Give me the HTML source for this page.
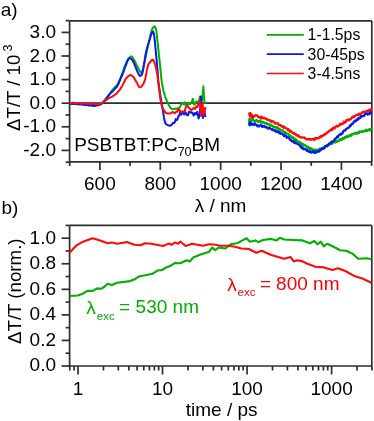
<!DOCTYPE html>
<html><head><meta charset="utf-8"><style>
html,body{margin:0;padding:0;background:#fff;}
svg{display:block;font-family:"Liberation Sans",sans-serif;will-change:transform;}
</style></head><body>
<svg width="374" height="421" viewBox="0 0 374 421">
<rect width="374" height="421" fill="#fff"/>
<line x1="69.60" y1="20.90" x2="371.80" y2="20.90" stroke="#2e2e2e" stroke-width="1.7"/>
<line x1="69.60" y1="161.90" x2="371.80" y2="161.90" stroke="#2e2e2e" stroke-width="1.7"/>
<line x1="69.60" y1="20.90" x2="69.60" y2="161.90" stroke="#2e2e2e" stroke-width="1.7"/>
<line x1="371.80" y1="20.90" x2="371.80" y2="161.90" stroke="#2e2e2e" stroke-width="1.7"/>
<line x1="69.60" y1="103.20" x2="371.80" y2="103.20" stroke="#2e2e2e" stroke-width="1.7"/>
<line x1="65.60" y1="162.20" x2="69.60" y2="162.20" stroke="#2e2e2e" stroke-width="1.7"/>
<line x1="61.60" y1="150.40" x2="69.60" y2="150.40" stroke="#2e2e2e" stroke-width="1.7"/>
<line x1="65.60" y1="138.60" x2="69.60" y2="138.60" stroke="#2e2e2e" stroke-width="1.7"/>
<line x1="61.60" y1="126.80" x2="69.60" y2="126.80" stroke="#2e2e2e" stroke-width="1.7"/>
<line x1="65.60" y1="115.00" x2="69.60" y2="115.00" stroke="#2e2e2e" stroke-width="1.7"/>
<line x1="61.60" y1="103.20" x2="69.60" y2="103.20" stroke="#2e2e2e" stroke-width="1.7"/>
<line x1="65.60" y1="91.40" x2="69.60" y2="91.40" stroke="#2e2e2e" stroke-width="1.7"/>
<line x1="61.60" y1="79.60" x2="69.60" y2="79.60" stroke="#2e2e2e" stroke-width="1.7"/>
<line x1="65.60" y1="67.80" x2="69.60" y2="67.80" stroke="#2e2e2e" stroke-width="1.7"/>
<line x1="61.60" y1="56.00" x2="69.60" y2="56.00" stroke="#2e2e2e" stroke-width="1.7"/>
<line x1="65.60" y1="44.20" x2="69.60" y2="44.20" stroke="#2e2e2e" stroke-width="1.7"/>
<line x1="61.60" y1="32.40" x2="69.60" y2="32.40" stroke="#2e2e2e" stroke-width="1.7"/>
<line x1="65.60" y1="20.60" x2="69.60" y2="20.60" stroke="#2e2e2e" stroke-width="1.7"/>
<line x1="69.70" y1="161.90" x2="69.70" y2="165.90" stroke="#2e2e2e" stroke-width="1.7"/>
<line x1="99.89" y1="161.90" x2="99.89" y2="169.90" stroke="#2e2e2e" stroke-width="1.7"/>
<line x1="130.08" y1="161.90" x2="130.08" y2="165.90" stroke="#2e2e2e" stroke-width="1.7"/>
<line x1="160.27" y1="161.90" x2="160.27" y2="169.90" stroke="#2e2e2e" stroke-width="1.7"/>
<line x1="190.46" y1="161.90" x2="190.46" y2="165.90" stroke="#2e2e2e" stroke-width="1.7"/>
<line x1="220.65" y1="161.90" x2="220.65" y2="169.90" stroke="#2e2e2e" stroke-width="1.7"/>
<line x1="250.84" y1="161.90" x2="250.84" y2="165.90" stroke="#2e2e2e" stroke-width="1.7"/>
<line x1="281.03" y1="161.90" x2="281.03" y2="169.90" stroke="#2e2e2e" stroke-width="1.7"/>
<line x1="311.22" y1="161.90" x2="311.22" y2="165.90" stroke="#2e2e2e" stroke-width="1.7"/>
<line x1="341.41" y1="161.90" x2="341.41" y2="169.90" stroke="#2e2e2e" stroke-width="1.7"/>
<line x1="371.60" y1="161.90" x2="371.60" y2="165.90" stroke="#2e2e2e" stroke-width="1.7"/>
<line x1="69.60" y1="225.40" x2="371.80" y2="225.40" stroke="#2e2e2e" stroke-width="1.7"/>
<line x1="69.60" y1="366.00" x2="371.80" y2="366.00" stroke="#2e2e2e" stroke-width="1.7"/>
<line x1="69.60" y1="225.40" x2="69.60" y2="366.00" stroke="#2e2e2e" stroke-width="1.7"/>
<line x1="371.80" y1="225.40" x2="371.80" y2="366.00" stroke="#2e2e2e" stroke-width="1.7"/>
<line x1="61.60" y1="366.00" x2="69.60" y2="366.00" stroke="#2e2e2e" stroke-width="1.7"/>
<line x1="65.60" y1="353.22" x2="69.60" y2="353.22" stroke="#2e2e2e" stroke-width="1.7"/>
<line x1="61.60" y1="340.44" x2="69.60" y2="340.44" stroke="#2e2e2e" stroke-width="1.7"/>
<line x1="65.60" y1="327.66" x2="69.60" y2="327.66" stroke="#2e2e2e" stroke-width="1.7"/>
<line x1="61.60" y1="314.88" x2="69.60" y2="314.88" stroke="#2e2e2e" stroke-width="1.7"/>
<line x1="65.60" y1="302.10" x2="69.60" y2="302.10" stroke="#2e2e2e" stroke-width="1.7"/>
<line x1="61.60" y1="289.32" x2="69.60" y2="289.32" stroke="#2e2e2e" stroke-width="1.7"/>
<line x1="65.60" y1="276.54" x2="69.60" y2="276.54" stroke="#2e2e2e" stroke-width="1.7"/>
<line x1="61.60" y1="263.76" x2="69.60" y2="263.76" stroke="#2e2e2e" stroke-width="1.7"/>
<line x1="65.60" y1="250.98" x2="69.60" y2="250.98" stroke="#2e2e2e" stroke-width="1.7"/>
<line x1="61.60" y1="238.20" x2="69.60" y2="238.20" stroke="#2e2e2e" stroke-width="1.7"/>
<line x1="65.60" y1="225.42" x2="69.60" y2="225.42" stroke="#2e2e2e" stroke-width="1.7"/>
<line x1="69.81" y1="366.00" x2="69.81" y2="370.50" stroke="#2e2e2e" stroke-width="1.7"/>
<line x1="74.13" y1="366.00" x2="74.13" y2="370.50" stroke="#2e2e2e" stroke-width="1.7"/>
<line x1="78.00" y1="366.00" x2="78.00" y2="374.50" stroke="#2e2e2e" stroke-width="1.7"/>
<line x1="103.45" y1="366.00" x2="103.45" y2="370.50" stroke="#2e2e2e" stroke-width="1.7"/>
<line x1="118.33" y1="366.00" x2="118.33" y2="370.50" stroke="#2e2e2e" stroke-width="1.7"/>
<line x1="128.89" y1="366.00" x2="128.89" y2="370.50" stroke="#2e2e2e" stroke-width="1.7"/>
<line x1="137.08" y1="366.00" x2="137.08" y2="370.50" stroke="#2e2e2e" stroke-width="1.7"/>
<line x1="143.78" y1="366.00" x2="143.78" y2="370.50" stroke="#2e2e2e" stroke-width="1.7"/>
<line x1="149.44" y1="366.00" x2="149.44" y2="370.50" stroke="#2e2e2e" stroke-width="1.7"/>
<line x1="154.34" y1="366.00" x2="154.34" y2="370.50" stroke="#2e2e2e" stroke-width="1.7"/>
<line x1="158.66" y1="366.00" x2="158.66" y2="370.50" stroke="#2e2e2e" stroke-width="1.7"/>
<line x1="162.53" y1="366.00" x2="162.53" y2="374.50" stroke="#2e2e2e" stroke-width="1.7"/>
<line x1="187.98" y1="366.00" x2="187.98" y2="370.50" stroke="#2e2e2e" stroke-width="1.7"/>
<line x1="202.86" y1="366.00" x2="202.86" y2="370.50" stroke="#2e2e2e" stroke-width="1.7"/>
<line x1="213.42" y1="366.00" x2="213.42" y2="370.50" stroke="#2e2e2e" stroke-width="1.7"/>
<line x1="221.61" y1="366.00" x2="221.61" y2="370.50" stroke="#2e2e2e" stroke-width="1.7"/>
<line x1="228.31" y1="366.00" x2="228.31" y2="370.50" stroke="#2e2e2e" stroke-width="1.7"/>
<line x1="233.97" y1="366.00" x2="233.97" y2="370.50" stroke="#2e2e2e" stroke-width="1.7"/>
<line x1="238.87" y1="366.00" x2="238.87" y2="370.50" stroke="#2e2e2e" stroke-width="1.7"/>
<line x1="243.19" y1="366.00" x2="243.19" y2="370.50" stroke="#2e2e2e" stroke-width="1.7"/>
<line x1="247.06" y1="366.00" x2="247.06" y2="374.50" stroke="#2e2e2e" stroke-width="1.7"/>
<line x1="272.51" y1="366.00" x2="272.51" y2="370.50" stroke="#2e2e2e" stroke-width="1.7"/>
<line x1="287.39" y1="366.00" x2="287.39" y2="370.50" stroke="#2e2e2e" stroke-width="1.7"/>
<line x1="297.95" y1="366.00" x2="297.95" y2="370.50" stroke="#2e2e2e" stroke-width="1.7"/>
<line x1="306.14" y1="366.00" x2="306.14" y2="370.50" stroke="#2e2e2e" stroke-width="1.7"/>
<line x1="312.84" y1="366.00" x2="312.84" y2="370.50" stroke="#2e2e2e" stroke-width="1.7"/>
<line x1="318.50" y1="366.00" x2="318.50" y2="370.50" stroke="#2e2e2e" stroke-width="1.7"/>
<line x1="323.40" y1="366.00" x2="323.40" y2="370.50" stroke="#2e2e2e" stroke-width="1.7"/>
<line x1="327.72" y1="366.00" x2="327.72" y2="370.50" stroke="#2e2e2e" stroke-width="1.7"/>
<line x1="331.59" y1="366.00" x2="331.59" y2="374.50" stroke="#2e2e2e" stroke-width="1.7"/>
<line x1="357.04" y1="366.00" x2="357.04" y2="370.50" stroke="#2e2e2e" stroke-width="1.7"/>
<line x1="371.92" y1="366.00" x2="371.92" y2="370.50" stroke="#2e2e2e" stroke-width="1.7"/>
<polyline points="69.7,104.0 70.4,104.0 71.2,104.0 72.2,103.7 73.3,103.9 74.5,103.7 75.8,103.6 77.2,104.0 78.6,103.7 80.0,103.9 81.0,104.0 82.1,104.0 83.3,103.9 84.6,104.1 85.9,104.2 87.2,104.3 88.5,104.1 89.7,104.3 91.0,104.2 92.1,104.3 93.2,104.6 94.2,104.5 95.0,104.5 97.0,104.7 98.2,104.7 99.0,104.3 100.0,104.1 100.9,103.5 101.8,102.9 102.7,102.2 103.6,101.3 104.4,100.5 105.2,99.7 105.9,99.1 106.5,98.0 107.2,97.2 108.0,96.2 108.7,95.0 109.4,94.2 110.1,93.4 110.8,92.3 111.6,91.0 112.3,90.0 113.1,89.3 113.9,88.2 114.7,87.5 115.5,86.6 116.3,86.0 117.0,85.1 117.6,84.3 118.1,82.9 118.6,82.2 119.1,81.2 119.5,79.9 120.0,79.2 120.5,78.1 121.0,76.6 121.4,75.8 121.9,74.4 122.3,73.2 122.8,72.2 123.2,71.1 123.6,69.7 123.9,68.7 124.3,67.7 124.7,66.5 125.1,65.4 125.5,64.4 126.0,63.4 126.6,61.8 127.2,60.9 127.8,59.7 128.4,58.5 129.0,57.9 130.1,57.0 131.1,56.4 132.3,56.8 132.8,57.8 133.3,58.5 133.8,59.6 134.4,60.3 134.9,61.5 135.5,62.6 136.0,64.1 136.6,64.9 137.1,65.8 137.8,67.2 138.4,68.7 139.0,70.0 139.7,70.9 140.3,71.8 140.8,72.7 141.4,72.5 141.8,72.2 142.2,71.1 142.6,70.1 142.9,69.2 143.3,67.7 143.6,66.0 144.0,65.0 144.3,63.4 144.6,62.2 144.8,60.7 145.1,60.1 145.3,58.6 145.5,57.8 145.7,56.5 145.9,55.3 146.2,54.3 146.4,53.4 146.6,52.0 146.8,50.8 147.0,50.0 147.3,48.7 147.6,47.4 147.8,46.3 148.1,45.1 148.4,44.1 148.7,43.1 149.0,42.0 149.2,41.2 149.5,39.9 149.8,38.8 150.0,37.4 150.3,36.3 150.5,34.9 150.7,33.9 151.0,32.7 151.2,32.0 151.5,31.0 152.1,29.3 152.7,28.1 153.3,27.3 153.9,26.4 155.0,26.6 156.0,29.0 156.1,29.7 156.3,30.7 156.4,31.4 156.5,32.4 156.7,33.6 156.8,34.9 156.9,35.8 157.1,37.3 157.2,38.5 157.3,39.7 157.5,40.9 157.6,42.2 157.7,43.3 157.9,44.6 158.0,45.8 158.1,47.2 158.2,48.0 158.4,49.1 158.5,50.1 158.6,51.6 158.7,52.7 158.8,53.8 158.9,54.7 159.1,55.8 159.2,57.0 159.3,58.2 159.4,59.2 159.5,60.4 159.6,61.5 159.8,63.0 159.9,64.1 160.0,65.0 160.1,66.0 160.2,67.5 160.4,68.4 160.5,69.6 160.6,70.6 160.7,72.0 160.8,73.3 160.9,74.5 161.1,75.5 161.2,76.8 161.3,77.7 161.4,79.0 161.6,80.0 161.7,81.2 161.8,82.1 162.0,83.0 162.1,84.1 162.4,85.5 162.6,87.1 162.9,88.3 163.2,89.6 163.4,90.7 163.7,91.8 164.0,92.9 164.3,93.7 164.6,94.6 164.9,95.8 165.3,96.7 165.7,98.1 166.1,99.1 166.5,99.8 166.9,101.2 167.4,102.1 167.8,102.9 168.4,104.2 169.0,105.6 169.6,106.4 170.2,107.6 171.0,108.3 172.1,109.1 173.3,109.2 174.6,109.1 176.0,108.3 177.2,109.1 178.4,108.1 179.6,107.7 180.8,105.1 182.0,103.6 183.0,103.5 183.9,104.2 184.8,102.2 185.8,105.9 187.0,103.9 188.0,104.1 189.2,103.8 190.4,104.0 191.6,102.5 192.8,98.7 194.0,104.5 195.0,104.0 196.4,101.6 197.7,101.5 198.8,102.2 200.0,96.5 201.2,102.6 202.4,97.8 203.4,86.3 204.3,101.0 205.5,104.0" fill="none" stroke="#00b000" stroke-width="2.0" stroke-linejoin="round"/>
<polyline points="69.7,103.4 70.4,103.4 71.3,103.7 72.4,103.5 73.6,103.9 74.9,103.9 76.2,103.9 77.5,104.3 78.8,104.2 80.0,104.5 81.2,104.4 82.3,104.5 83.5,104.8 84.7,105.1 85.9,104.9 87.0,105.1 88.1,105.4 89.1,105.6 90.0,105.5 91.6,105.6 92.8,106.0 93.9,105.6 95.0,106.0 96.3,105.6 97.5,105.3 98.8,105.1 100.0,104.7 101.0,104.4 102.0,103.4 102.9,102.9 103.7,102.2 104.4,101.4 105.1,100.7 105.7,99.4 106.3,98.5 107.0,97.6 107.8,96.7 108.6,95.4 109.5,94.3 110.2,93.6 111.0,92.7 111.9,91.8 112.7,91.3 113.5,90.5 114.2,89.5 115.2,88.6 116.0,87.6 116.8,86.8 117.6,85.5 118.1,84.4 118.6,83.7 119.1,82.2 119.5,81.3 120.0,80.4 120.4,79.0 120.9,78.0 121.4,76.7 121.9,75.9 122.3,74.8 122.8,73.5 123.2,72.6 123.6,71.3 124.0,70.3 124.4,69.1 124.8,68.0 125.2,66.8 125.7,65.8 126.1,64.6 126.6,63.1 127.1,62.0 127.6,60.6 128.0,60.1 129.0,58.4 130.1,58.2 130.8,58.6 131.6,59.1 132.4,60.3 133.3,61.9 133.8,62.5 134.2,63.8 134.7,64.8 135.2,66.1 135.7,67.3 136.2,68.9 136.7,69.7 137.1,70.8 137.7,72.2 138.3,73.7 138.8,74.3 139.3,75.3 139.8,75.7 140.7,75.9 141.6,75.0 142.4,73.2 142.6,72.1 142.8,71.3 143.0,70.2 143.2,69.3 143.4,68.2 143.6,66.5 143.8,65.3 144.0,64.0 144.2,62.8 144.4,61.8 144.6,60.7 144.8,59.4 145.0,58.1 145.2,57.1 145.4,56.0 145.5,55.0 145.7,54.1 145.9,52.9 146.2,51.7 146.4,50.7 146.7,49.6 147.0,48.1 147.3,47.4 147.6,46.2 148.0,45.1 148.3,43.9 148.6,42.6 149.0,41.6 149.3,40.4 149.7,39.3 150.2,37.7 150.6,36.3 151.0,35.1 151.5,34.0 151.8,33.2 152.2,32.4 153.1,31.5 153.9,33.8 154.0,34.5 154.1,35.4 154.3,36.1 154.4,37.5 154.5,38.4 154.6,39.2 154.7,40.5 154.9,41.7 155.0,43.0 155.1,44.1 155.2,45.8 155.3,47.1 155.5,48.1 155.6,49.4 155.7,50.4 155.8,51.5 155.9,52.7 156.0,53.8 156.1,55.3 156.2,56.1 156.4,57.2 156.5,58.9 156.6,59.9 156.7,60.9 156.8,62.3 156.9,63.2 157.0,64.6 157.1,66.0 157.2,67.0 157.3,68.0 157.4,68.9 157.5,69.9 157.6,71.2 157.7,72.8 157.8,73.9 157.9,75.2 158.0,76.1 158.1,77.2 158.2,78.6 158.2,79.7 158.3,80.8 158.4,81.9 158.6,83.0 158.7,84.1 158.8,85.0 159.0,86.2 159.1,87.3 159.3,88.3 159.5,89.4 159.7,90.7 159.8,91.8 160.0,93.1 160.2,94.4 160.4,95.3 160.6,96.6 160.7,97.7 160.9,98.7 161.1,99.6 161.3,100.8 161.5,102.0 161.7,103.1 161.9,104.3 162.1,105.6 162.2,106.8 162.4,107.9 162.6,108.8 162.8,110.0 163.0,111.1 163.2,112.0 163.4,113.5 163.6,114.9 163.8,116.0 163.9,117.2 164.1,118.2 164.3,119.2 164.5,120.5 164.8,121.1 165.0,122.2 165.9,124.0 166.9,124.6 168.0,125.2 169.1,125.7 170.3,125.6 171.5,124.8 172.4,123.8 173.2,122.7 174.1,123.1 175.0,121.8 175.7,119.1 176.4,120.3 177.1,119.9 177.9,117.9 178.6,115.7 179.2,115.7 179.9,112.7 180.5,111.1 181.2,114.8 182.0,112.7 183.0,112.0 184.2,114.5 185.5,112.2 187.0,115.3 188.0,115.3 189.0,111.7 190.1,112.2 191.3,112.8 192.5,112.7 193.7,115.5 195.0,113.1 196.1,114.3 197.3,111.8 198.6,118.5 199.9,113.4 201.0,96.5 202.0,112.0 203.0,118.0 204.0,110.0 205.5,117.0" fill="none" stroke="#0818f0" stroke-width="2.0" stroke-linejoin="round"/>
<polyline points="69.7,102.6 70.4,102.9 71.3,103.0 72.4,102.8 73.6,102.8 74.9,102.9 76.2,103.1 77.5,103.2 78.8,103.2 80.0,103.3 81.1,103.1 82.2,103.2 83.4,103.3 84.5,103.6 85.6,103.5 86.7,103.7 87.8,103.4 88.9,103.5 90.0,103.7 91.1,103.9 92.3,104.0 93.5,104.1 94.8,104.0 95.9,104.2 97.1,104.2 98.2,104.2 99.1,103.9 100.0,104.2 101.5,103.3 102.7,102.8 103.6,101.9 104.4,100.8 105.3,100.3 106.6,99.7 107.4,99.3 108.5,98.5 109.6,97.8 110.9,97.1 112.1,96.8 113.2,95.8 114.2,95.3 115.2,94.4 116.0,93.8 116.8,93.3 117.6,92.1 118.3,91.6 119.0,90.6 119.7,89.9 120.4,88.9 121.0,87.7 121.6,87.0 122.2,85.9 122.8,84.7 123.4,83.5 124.0,82.5 124.5,81.3 125.0,80.1 125.6,79.0 126.6,77.8 127.6,76.6 128.5,76.1 130.5,74.8 131.8,75.5 133.3,76.9 133.9,77.3 134.5,78.8 135.2,79.9 135.8,81.2 136.5,82.1 137.1,83.1 137.9,84.6 138.7,86.4 139.4,87.2 140.3,87.3 140.9,87.1 141.5,86.5 142.1,85.6 142.8,84.7 143.4,83.9 144.0,82.3 144.6,81.2 144.9,80.0 145.2,79.0 145.4,78.0 145.7,76.6 145.9,75.4 146.2,74.4 146.4,73.1 146.6,71.8 146.9,70.4 147.1,69.4 147.3,68.3 147.6,67.2 147.8,66.4 148.4,64.4 149.0,63.5 149.6,62.6 150.2,62.0 150.7,61.4 151.9,59.8 153.1,59.7 153.6,60.8 154.1,61.4 154.6,62.9 155.0,64.3 155.5,65.9 155.7,67.0 156.0,68.1 156.2,68.7 156.4,69.9 156.6,70.8 156.8,72.1 157.1,73.2 157.3,74.4 157.5,75.8 157.6,76.8 157.8,78.2 157.9,79.1 158.1,80.1 158.2,81.6 158.4,82.9 158.5,83.8 158.6,84.9 158.8,86.2 158.9,87.3 159.1,88.6 159.2,89.7 159.4,90.8 159.5,91.9 159.7,93.3 159.8,94.7 160.0,95.8 160.1,96.9 160.3,98.0 160.4,99.2 160.6,100.2 160.8,101.2 161.0,102.1 161.2,103.2 161.4,104.4 161.8,105.4 162.3,106.9 162.9,108.3 163.4,109.5 164.0,110.2 164.5,111.1 165.0,111.9 166.0,113.0 166.9,113.3 168.0,113.6 169.1,113.6 170.4,113.5 172.0,112.4 172.9,112.0 173.9,112.9 175.0,113.2 176.2,111.7 177.3,111.7 178.5,109.0 179.6,110.2 180.8,112.3 182.1,111.6 183.3,111.5 184.5,111.9 185.7,107.5 187.0,106.2 188.1,106.1 189.2,108.2 190.3,109.0 191.4,110.6 192.5,108.8 193.7,108.1 195.0,108.9 196.1,106.3 197.4,107.1 198.7,102.5 200.0,101.0 201.0,116.0 202.5,104.0 204.0,115.0 205.5,107.0" fill="none" stroke="#ff0a0a" stroke-width="2.0" stroke-linejoin="round"/>
<polyline points="249.0,114.7 249.4,113.5 249.8,116.3 250.3,113.1 250.9,116.9 251.5,114.3 252.1,116.3 252.8,118.0 253.5,116.1 254.2,116.4 255.0,115.7 255.8,115.0 256.6,115.3 257.4,115.7 258.2,117.1 259.1,116.9 259.9,117.3 260.8,118.5 261.6,116.8 262.4,117.6 263.0,118.4 263.6,117.6 264.2,117.8 264.9,118.6 265.5,118.4 266.1,119.0 266.8,119.1 267.5,119.9 268.1,120.1 268.8,119.8 269.5,120.7 270.2,120.7 270.8,120.5 271.5,122.0 272.2,121.2 272.9,121.3 273.6,121.5 274.3,122.7 275.0,123.4 275.7,123.5 276.4,123.2 277.1,123.3 277.8,123.2 278.5,124.6 279.1,124.8 279.8,124.8 280.4,125.6 281.1,125.6 281.7,126.7 282.4,126.7 283.0,126.3 283.7,127.8 284.4,126.8 285.1,128.0 285.7,128.2 286.4,128.3 287.1,128.5 287.8,130.1 288.4,129.2 289.1,130.5 289.8,131.6 290.4,130.7 291.1,131.2 291.7,132.3 292.3,132.5 292.9,133.1 293.5,133.7 294.1,133.1 294.7,133.6 295.2,134.0 295.7,133.9 296.3,135.5 296.7,135.6 297.2,135.7 298.3,135.2 299.2,137.0 300.0,137.2 300.8,137.1 301.4,137.8 302.0,137.5 302.6,137.3 303.2,137.3 303.7,137.7 304.3,137.5 305.0,138.1 305.8,139.0 306.5,139.1 307.2,139.5 308.0,139.4 308.7,138.8 309.5,139.4 310.2,139.2 310.9,139.8 311.7,139.4 312.4,138.9 313.1,139.5 313.7,139.9 314.3,138.6 314.9,139.5 315.5,138.0 316.1,138.2 316.7,138.0 317.4,138.5 318.1,138.5 318.9,137.8 319.8,136.7 320.3,137.4 320.8,136.2 321.3,135.7 321.9,136.5 322.5,135.7 323.0,135.5 323.6,135.0 324.2,135.2 324.8,133.9 325.5,134.1 326.1,133.5 326.8,133.3 327.4,132.2 328.1,132.3 328.7,131.6 329.4,130.8 330.0,130.2 330.7,130.4 331.4,129.1 332.0,130.1 332.7,128.4 333.3,127.9 333.9,127.7 334.5,128.6 335.1,127.3 335.7,126.7 336.3,126.1 336.9,125.8 337.5,126.5 338.2,126.0 338.8,125.7 339.4,125.4 340.0,124.0 340.7,124.5 341.3,123.7 341.9,124.1 342.6,123.8 343.2,123.5 343.8,121.8 344.4,122.8 345.0,122.5 345.6,122.2 346.2,120.5 346.8,120.4 347.4,119.9 348.1,119.4 348.7,120.3 349.4,119.9 350.0,119.2 350.7,119.2 351.3,118.5 351.9,117.6 352.6,116.9 353.2,116.6 353.8,117.3 354.4,116.1 355.1,115.9 355.7,115.7 356.3,114.8 356.9,114.8 357.5,114.6 358.1,115.0 358.7,114.1 359.2,113.7 359.8,114.5 360.4,113.5 361.2,113.7 362.0,113.0 362.8,111.8 363.6,112.1 364.4,111.9 365.2,112.1 366.0,111.2 366.8,111.5 367.5,111.0 368.2,110.3 368.9,111.2 369.5,109.7 370.1,110.7 370.7,109.5 371.1,109.1 371.5,109.3" fill="none" stroke="#ff0a0a" stroke-width="2.3" stroke-linejoin="round"/>
<polyline points="249.0,122.8 249.4,118.9 249.8,121.2 250.3,121.4 250.9,119.5 251.5,120.3 252.1,119.2 252.8,119.6 253.5,120.4 254.2,121.3 255.0,121.5 255.8,120.5 256.6,120.0 257.4,121.0 258.2,122.0 259.1,120.9 259.9,121.3 260.8,121.2 261.6,123.0 262.4,122.5 263.0,121.9 263.6,122.1 264.2,122.8 264.9,123.2 265.5,123.6 266.1,122.9 266.8,123.2 267.5,124.3 268.1,124.1 268.8,124.1 269.5,124.4 270.2,125.7 270.8,124.9 271.5,125.6 272.2,125.6 272.9,125.9 273.6,127.0 274.3,127.5 275.0,126.8 275.7,126.8 276.4,128.0 277.1,127.5 277.8,127.5 278.5,129.3 279.1,128.8 279.8,129.8 280.4,129.5 281.0,130.6 281.6,130.3 282.3,130.2 282.9,130.3 283.6,131.6 284.2,132.1 284.9,133.0 285.5,132.1 286.2,133.3 286.8,133.4 287.5,134.0 288.1,133.9 288.8,134.6 289.4,135.4 290.1,136.5 290.7,135.6 291.3,136.6 291.9,137.6 292.5,138.2 293.1,137.4 293.7,137.7 294.2,139.4 294.8,139.8 295.3,139.4 295.8,139.1 296.3,140.8 296.8,140.2 297.2,141.3 298.1,141.5 298.9,142.4 299.7,141.8 300.3,143.2 300.9,142.7 301.5,143.4 302.0,144.4 302.5,144.7 302.9,144.0 303.4,144.3 303.9,144.9 304.4,145.4 305.0,145.5 305.7,145.5 306.4,146.1 307.0,147.3 307.7,147.9 308.4,146.9 309.1,148.1 309.7,148.8 310.4,148.0 311.1,149.5 311.7,148.6 312.4,149.6 313.1,149.7 313.8,149.9 314.4,149.6 315.1,149.8 315.8,150.2 316.4,149.9 317.2,150.2 318.0,149.8 318.8,149.6 319.8,148.6 320.3,149.4 320.9,149.0 321.4,148.4 322.0,149.0 322.6,148.7 323.2,147.9 323.8,147.1 324.5,147.3 325.1,146.3 325.8,146.0 326.5,146.1 327.1,145.2 327.8,145.4 328.5,145.1 329.2,144.0 329.9,144.6 330.6,143.4 331.3,144.0 332.0,143.8 332.7,143.0 333.3,142.0 334.0,142.4 334.6,141.9 335.3,142.5 336.0,140.9 336.6,141.8 337.3,141.7 338.0,140.9 338.7,140.8 339.4,139.5 340.0,140.4 340.7,139.3 341.4,139.8 342.1,139.4 342.8,137.9 343.5,138.6 344.1,138.5 344.8,136.9 345.5,137.1 346.1,137.4 346.8,136.2 347.4,137.1 348.1,135.9 348.8,136.4 349.6,135.1 350.3,135.4 351.0,135.8 351.7,134.4 352.4,134.2 353.1,134.3 353.8,133.8 354.5,133.1 355.1,133.1 355.8,132.8 356.5,133.9 357.2,133.2 357.8,133.3 358.5,132.0 359.1,132.8 359.8,131.5 360.4,131.9 361.2,131.9 362.0,131.2 362.8,131.8 363.6,131.1 364.4,130.9 365.2,131.2 366.0,129.8 366.8,131.0 367.5,130.2 368.2,129.7 368.9,130.2 369.5,129.2 370.1,130.2 370.7,129.4 371.1,129.0 371.5,129.5" fill="none" stroke="#00b000" stroke-width="2.3" stroke-linejoin="round"/>
<polyline points="249.0,122.9 249.4,124.8 249.8,125.2 250.3,122.4 250.9,122.3 251.5,124.5 252.1,124.9 252.8,124.0 253.5,123.9 254.2,125.0 255.0,123.5 255.8,124.4 256.6,124.9 257.4,126.3 258.2,125.6 259.1,126.4 259.9,125.5 260.8,125.1 261.6,125.3 262.4,126.9 263.0,126.7 263.6,126.2 264.2,126.0 264.9,126.9 265.5,127.4 266.1,127.2 266.8,127.1 267.5,128.0 268.1,128.6 268.8,127.8 269.5,127.7 270.2,128.4 270.8,128.8 271.5,129.5 272.2,129.0 272.9,130.2 273.6,130.4 274.3,130.3 275.0,130.1 275.7,131.6 276.4,130.9 277.1,132.0 277.8,131.4 278.5,131.7 279.1,132.9 279.8,132.5 280.4,133.8 281.0,133.4 281.6,133.3 282.3,133.7 282.9,134.4 283.6,135.2 284.2,136.1 284.9,135.2 285.5,136.0 286.2,136.1 286.8,137.8 287.5,136.9 288.1,137.2 288.8,137.6 289.4,138.6 290.1,139.8 290.7,140.2 291.3,140.4 291.9,141.3 292.5,141.6 293.1,141.0 293.7,141.2 294.2,142.8 294.8,142.8 295.3,142.1 295.8,143.4 296.3,143.3 296.8,143.6 297.2,143.8 298.1,144.2 298.9,144.5 299.7,145.4 300.3,146.0 300.9,147.4 301.5,146.5 302.0,148.2 302.5,147.3 302.9,147.9 303.4,149.0 303.9,149.3 304.4,149.0 305.0,148.7 305.7,149.7 306.4,149.9 307.0,151.1 307.7,150.3 308.4,150.9 309.1,152.0 309.7,150.9 310.4,151.7 311.1,152.5 311.7,152.6 312.4,151.5 313.1,151.5 313.8,151.6 314.4,152.9 315.1,151.8 315.8,152.5 316.4,152.5 317.2,151.4 318.0,150.9 318.8,151.6 319.8,150.6 320.3,149.8 320.8,150.2 321.3,149.2 321.8,148.9 322.3,148.1 322.9,148.9 323.4,148.8 324.0,147.9 324.6,148.0 325.2,146.1 325.8,146.0 326.4,146.0 327.0,146.3 327.6,145.8 328.3,144.4 328.9,143.7 329.5,143.5 330.2,143.1 330.8,143.3 331.4,141.6 332.1,142.1 332.7,141.5 333.2,141.2 333.7,140.7 334.3,140.0 334.8,139.1 335.3,138.6 335.9,138.2 336.4,138.4 337.0,136.8 337.5,136.5 338.1,136.9 338.6,135.6 339.2,134.8 339.8,134.3 340.3,134.6 340.9,133.7 341.4,134.3 342.0,133.6 342.6,133.3 343.1,131.6 343.7,130.8 344.2,130.4 344.8,130.5 345.3,130.4 345.8,129.5 346.4,128.7 346.9,128.5 347.4,128.4 348.0,128.0 348.5,127.6 349.1,127.2 349.7,126.4 350.3,125.1 350.8,125.7 351.4,124.3 351.9,124.2 352.5,123.4 353.0,123.5 353.6,122.1 354.1,121.7 354.7,121.2 355.2,120.6 355.7,121.3 356.3,120.4 356.8,119.5 357.3,119.2 357.8,119.7 358.4,118.6 358.9,117.7 359.4,118.3 359.9,117.7 360.4,117.9 361.1,116.0 361.9,116.2 362.6,116.4 363.4,116.0 364.1,115.8 364.9,114.1 365.7,114.2 366.4,113.6 367.1,113.5 367.8,114.5 368.5,113.7 369.1,114.0 369.7,112.9 370.2,113.5 370.7,112.7 371.1,112.3 371.5,112.9" fill="none" stroke="#0818f0" stroke-width="2.3" stroke-linejoin="round"/>
<polyline points="70.1,296.0 77.8,295.5 82.1,294.1 87.5,290.9 92.8,290.9 97.1,288.4 101.4,288.7 104.6,286.6 107.6,283.8 111.9,284.9 117.2,282.8 130.0,281.1 134.2,279.6 139.6,276.2 144.0,275.5 148.0,274.8 152.4,273.8 157.8,270.4 162.0,270.0 166.3,267.4 170.6,265.7 174.9,263.1 180.3,263.3 186.7,260.3 189.9,261.4 193.1,257.5 200.6,254.5 209.2,251.7 212.4,247.5 215.2,250.2 218.8,247.5 225.3,248.5 230.7,244.3 237.1,243.2 242.5,240.4 246.7,238.3 249.9,241.7 255.3,240.4 258.5,242.1 262.8,240.0 271.3,238.9 276.7,240.4 279.9,237.8 284.2,239.5 292.7,240.0 302.6,240.4 310.0,243.2 314.3,241.0 317.5,244.3 320.7,241.7 324.0,246.4 327.2,243.8 333.6,246.8 340.0,250.2 346.4,250.7 352.8,253.9 358.2,258.8 366.7,258.2 371.5,259.2" fill="none" stroke="#00b000" stroke-width="2.1" stroke-linejoin="round"/>
<polyline points="69.7,252.4 76.6,245.3 83.0,241.7 92.6,238.3 100.1,240.4 107.6,243.2 111.9,242.5 117.2,243.8 126.8,242.1 134.3,244.7 140.7,245.3 145.0,243.2 151.4,243.8 163.2,246.0 168.5,243.6 171.7,244.7 175.0,242.5 178.2,243.8 180.3,241.5 185.6,246.0 192.1,243.8 202.8,245.7 209.2,244.3 215.6,244.7 219.9,245.7 228.6,245.7 235.0,246.8 241.4,248.5 248.9,249.0 256.4,252.8 261.7,250.7 271.3,255.0 284.2,258.8 290.6,257.1 293.8,261.4 297.0,260.3 302.6,261.4 306.8,263.5 315.4,266.7 324.0,267.4 332.5,270.0 337.9,268.2 345.3,271.0 355.0,276.3 362.4,278.5 371.5,282.8" fill="none" stroke="#ff0a0a" stroke-width="2.1" stroke-linejoin="round"/>
<text x="0.80" y="15.60" font-size="19" text-anchor="start" fill="#000" >a)</text>
<text x="1.50" y="213.60" font-size="19" text-anchor="start" fill="#000" >b)</text>
<text x="56.00" y="38.00" font-size="19" text-anchor="end" fill="#000" >3.0</text>
<text x="56.00" y="61.60" font-size="19" text-anchor="end" fill="#000" >2.0</text>
<text x="56.00" y="85.20" font-size="19" text-anchor="end" fill="#000" >1.0</text>
<text x="56.00" y="108.80" font-size="19" text-anchor="end" fill="#000" >0.0</text>
<text x="56.00" y="132.40" font-size="19" text-anchor="end" fill="#000" >-1.0</text>
<text x="56.00" y="156.00" font-size="19" text-anchor="end" fill="#000" >-2.0</text>
<text x="99.89" y="190.00" font-size="19" text-anchor="middle" fill="#000" >600</text>
<text x="160.27" y="190.00" font-size="19" text-anchor="middle" fill="#000" >800</text>
<text x="220.65" y="190.00" font-size="19" text-anchor="middle" fill="#000" >1000</text>
<text x="281.03" y="190.00" font-size="19" text-anchor="middle" fill="#000" >1200</text>
<text x="341.41" y="190.00" font-size="19" text-anchor="middle" fill="#000" >1400</text>
<text x="220.50" y="211.60" font-size="19" text-anchor="middle" fill="#000" >λ / nm</text>
<text x="74.2" y="151.4" font-size="19">PSBTBT:PC<tspan font-size="12.5" dy="4.3">70</tspan><tspan dy="-4.3">BM</tspan></text>
<line x1="266.80" y1="34.80" x2="303.80" y2="34.80" stroke="#00b000" stroke-width="1.7"/>
<text x="307.60" y="40.10" font-size="15.8" text-anchor="start" fill="#000" >1-1.5ps</text>
<line x1="266.80" y1="54.20" x2="303.80" y2="54.20" stroke="#0818f0" stroke-width="1.7"/>
<text x="307.60" y="59.50" font-size="15.8" text-anchor="start" fill="#000" >30-45ps</text>
<line x1="266.80" y1="73.50" x2="303.80" y2="73.50" stroke="#ff0a0a" stroke-width="1.7"/>
<text x="307.60" y="78.80" font-size="15.8" text-anchor="start" fill="#000" >3-4.5ns</text>
<text transform="translate(19.9,130.9) rotate(-90)" font-size="18.6">ΔT/T / 10</text>
<text transform="translate(11.6,51.4) rotate(-90)" font-size="12.5">3</text>
<line x1="8" y1="53.5" x2="8" y2="52.5" stroke="#999" stroke-width="1"/>
<text transform="translate(21.3,344.0) rotate(-90)" font-size="18.7">ΔT/T (norm.)</text>
<text x="56.00" y="371.40" font-size="19" text-anchor="end" fill="#000" >0.0</text>
<text x="56.00" y="345.84" font-size="19" text-anchor="end" fill="#000" >0.2</text>
<text x="56.00" y="320.28" font-size="19" text-anchor="end" fill="#000" >0.4</text>
<text x="56.00" y="294.72" font-size="19" text-anchor="end" fill="#000" >0.6</text>
<text x="56.00" y="269.16" font-size="19" text-anchor="end" fill="#000" >0.8</text>
<text x="56.00" y="243.60" font-size="19" text-anchor="end" fill="#000" >1.0</text>
<text x="78.00" y="394.70" font-size="19" text-anchor="middle" fill="#000" >1</text>
<text x="162.53" y="394.70" font-size="19" text-anchor="middle" fill="#000" >10</text>
<text x="247.06" y="394.70" font-size="19" text-anchor="middle" fill="#000" >100</text>
<text x="331.59" y="394.70" font-size="19" text-anchor="middle" fill="#000" >1000</text>
<text x="185.80" y="415.70" font-size="19" text-anchor="start" fill="#000" >time / ps</text>
<text x="86.2" y="313.6" font-size="19" fill="#00ad00">λ</text>
<text x="96.8" y="319.8" font-size="11.5" fill="#00ad00">exc</text>
<text x="119.0" y="312.6" font-size="19" fill="#00ad00">=</text>
<text x="135.6" y="312.6" font-size="19" fill="#00ad00">530 nm</text>
<text x="227.3" y="290.6" font-size="19" fill="#ff0000">λ</text>
<text x="237.6" y="296.2" font-size="11.5" fill="#ff0000">exc</text>
<text x="259.9" y="289.6" font-size="19" fill="#ff0000">=</text>
<text x="276.1" y="289.6" font-size="19" fill="#ff0000">800 nm</text>
</svg></body></html>
